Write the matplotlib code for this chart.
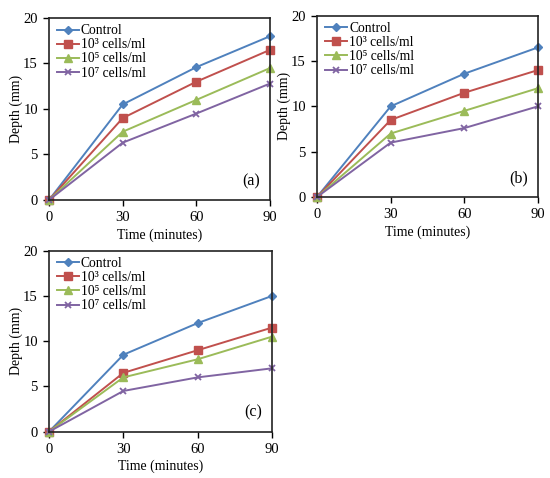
import matplotlib
matplotlib.use("Agg")
import matplotlib.pyplot as plt

# ================= Data ================= #
time_min = [0, 30, 60, 90]
series_labels = ["Control", "10\u00b3 cells/ml", "10\u2075 cells/ml", "10\u2077 cells/ml"]

depth_a = [
    [0, 10.5, 14.6, 18.0],
    [0, 9.0, 13.0, 16.5],
    [0, 7.5, 11.0, 14.5],
    [0, 6.3, 9.5, 12.8],
]
depth_b = [
    [0, 10.0, 13.6, 16.5],
    [0, 8.5, 11.5, 14.0],
    [0, 7.0, 9.5, 12.0],
    [0, 6.0, 7.6, 10.0],
]
depth_c = [
    [0, 8.5, 12.0, 15.0],
    [0, 6.5, 9.0, 11.5],
    [0, 6.0, 8.0, 10.5],
    [0, 4.5, 6.0, 7.0],
]
panel_tags = ["(a)", "(b)", "(c)"]

# ================= Style ================= #
colors = ["#4F81BD", "#C0504D", "#9BBB59", "#8064A2"]
markers = ["D", "s", "^", "x"]
msizes = [4, 6, 5.5, 5]

plt.rcParams.update({"font.family": ["Liberation Serif", "DejaVu Serif"],
                     "font.size": 10})


def draw_panel(ax, data, tag):
    for vals, lab, c, m, ms in zip(data, series_labels, colors, markers, msizes):
        if m == "x":
            ax.plot(time_min, vals, color=c, marker=m, markersize=ms,
                    markeredgewidth=1.3, linewidth=1.4, label=lab)
        else:
            ax.plot(time_min, vals, color=c, marker=m, markersize=ms,
                    markeredgecolor=c, linewidth=1.4, label=lab)
    ax.set_xlim(0, 90)
    ax.set_ylim(0, 20)
    ax.set_xticks([0, 30, 60, 90])
    ax.set_yticks([0, 5, 10, 15, 20])
    ax.tick_params(direction="out", length=4, width=1, pad=4, labelsize=10.5)
    for sp in ax.spines.values():
        sp.set_linewidth(1.2)
        sp.set_color("#222222")
    ax.set_xlabel("Time (minutes)", fontsize=10, labelpad=3)
    ax.set_ylabel("Depth (mm)", fontsize=10, labelpad=0)
    ax.text(0.955, 0.06, tag, transform=ax.transAxes, ha="right", va="bottom",
            fontsize=11.5)
    ax.legend(loc="upper left", frameon=False, fontsize=9.8, handlelength=1.6,
              handletextpad=0.15, labelspacing=0.08, borderaxespad=0.2,
              bbox_to_anchor=(0.0, 1.01))
    for ln in ax.get_lines():
        ln.set_clip_on(False)


fig = plt.figure(figsize=(5.5, 4.78), dpi=100)
ax_a = fig.add_axes([0.0891, 0.5816, 0.402, 0.3808])
ax_b = fig.add_axes([0.5764, 0.5879, 0.4018, 0.3793])
ax_c = fig.add_axes([0.0891, 0.0969, 0.4055, 0.3787])

draw_panel(ax_a, depth_a, panel_tags[0])
draw_panel(ax_b, depth_b, panel_tags[1])
draw_panel(ax_c, depth_c, panel_tags[2])

fig.savefig("out.png", dpi=100)
